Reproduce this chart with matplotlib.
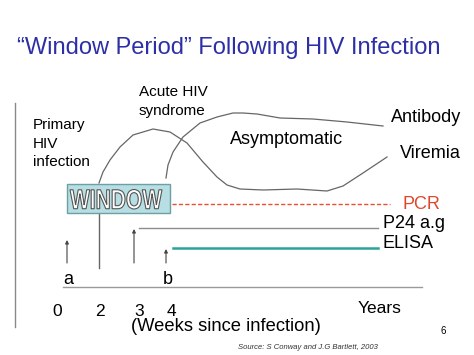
import matplotlib
matplotlib.use("Agg")
from matplotlib import pyplot as plt, patches as mpatches
from matplotlib.textpath import TextPath
from matplotlib.font_manager import FontProperties
from matplotlib.transforms import Affine2D

plt.rcParams['font.family'] = ['Liberation Sans', 'DejaVu Sans']

# diagram drawn in pixel space of the 474x355 slide
viremia_x = [99, 103, 110, 120, 133, 153, 170, 187, 203, 217, 227, 240, 263, 297, 327, 343, 363, 387]
viremia_y = [183, 172, 160, 147, 135, 129, 132, 143, 162, 177, 185, 189, 190, 189, 191, 186, 173, 157]

antibody_x = [166, 168, 173, 183, 200, 217, 233, 243, 257, 280, 313, 347, 383]
antibody_y = [178, 165, 152, 137, 123, 117, 113, 113, 114, 118, 119, 122, 126]

# test detection lines: (start, end, y)
tests = ['PCR', 'P24 a.g', 'ELISA']
test_start = [172, 139, 173]
test_end = [390, 378, 378]
test_y = [204, 228, 248]

week_labels = ['0', '2', '3', '4']
week_pos = [57.5, 100, 139.5, 171]

fig = plt.figure(figsize=(4.74, 3.55), dpi=100)
ax = fig.add_axes([0, 0, 1, 1])
ax.set_xlim(0, 474)
ax.set_ylim(355, 0)
ax.axis('off')

ax.text(17, 54, '\u201cWindow Period\u201d Following HIV Infection', fontsize=17,
        color='#2d2fa6', va='baseline')

# frame lines
ax.plot([15, 15], [103, 327], color='#8a8a8a', lw=1)
ax.plot([63, 422], [287, 287], color='#9a9a9a', lw=1)

# curves
ax.plot(viremia_x, viremia_y, color='#666666', lw=0.9)
ax.plot(antibody_x, antibody_y, color='#666666', lw=0.9)

# window box
ax.add_patch(mpatches.Rectangle((67, 184), 103, 29, facecolor='#b7dee2',
                                edgecolor='#6e9fa4', lw=1, zorder=3))
# outlined, condensed WINDOW lettering squeezed into the box
tp = TextPath((0, 0), 'WINDOW', size=20, prop=FontProperties(family='Liberation Sans', weight='bold'))
ext = tp.get_extents()
x0, x1, ytop, ybot = 70, 162, 189.5, 209
sx = (x1 - x0) / ext.width
sy = (ybot - ytop) / ext.height
tr = Affine2D().translate(-ext.x0, -ext.y0).scale(sx, -sy).translate(x0, ybot)
ax.add_patch(mpatches.PathPatch(tr.transform_path(tp), facecolor='white',
                                edgecolor='#555555', lw=0.8, zorder=4))

# tests
ax.plot([test_start[0], test_end[0]], [test_y[0]] * 2, color='#e5522f', lw=1, ls=(0, (3, 1.6)))
ax.plot([test_start[1], test_end[1]], [test_y[1]] * 2, color='#8c8c8c', lw=1)
ax.plot([test_start[2], test_end[2]], [test_y[2]] * 2, color='#2aa39d', lw=1.8)
ax.text(403, 209, tests[0], fontsize=13, color='#e0472a')
ax.text(383, 228.5, tests[1], fontsize=13)
ax.text(383, 248.5, tests[2], fontsize=13)

# vertical markers
ax.plot([99, 99], [213, 268], color='#666666', lw=1)
arrow = dict(arrowstyle='-|>', color='#444444', lw=0.8, mutation_scale=5, shrinkA=0, shrinkB=0)
for x, top in [(67, 240), (134, 229), (166, 249)]:
    ax.annotate('', xy=(x, top), xytext=(x, 263), arrowprops=arrow)

ax.text(68, 284, 'a', fontsize=13, ha='center')
ax.text(168, 284, 'b', fontsize=13, ha='center')

# labels
for txt, y in zip(['Primary', 'HIV', 'infection'], [129, 147.5, 166]):
    ax.text(33, y, txt, fontsize=11)
for txt, y in zip(['Acute HIV', 'syndrome'], [96.5, 114.5]):
    ax.text(139, y, txt, fontsize=11)
ax.text(230, 143.5, 'Asymptomatic', fontsize=13)
ax.text(391, 122.5, 'Antibody', fontsize=13)
ax.text(400, 157.5, 'Viremia', fontsize=13)

for lab, x in zip(week_labels, week_pos):
    ax.text(x, 316, lab, fontsize=12.5, ha='center')
ax.text(358, 313, 'Years', fontsize=12.5)
ax.text(131, 331, '(Weeks since infection)', fontsize=13.2)
ax.text(443, 334, '6', fontsize=7, ha='center')
ax.text(238, 349, 'Source: S Conway and J.G Bartlett, 2003', fontsize=5.5,
        style='italic', color='#333333')

fig.savefig('out.png', dpi=100)
